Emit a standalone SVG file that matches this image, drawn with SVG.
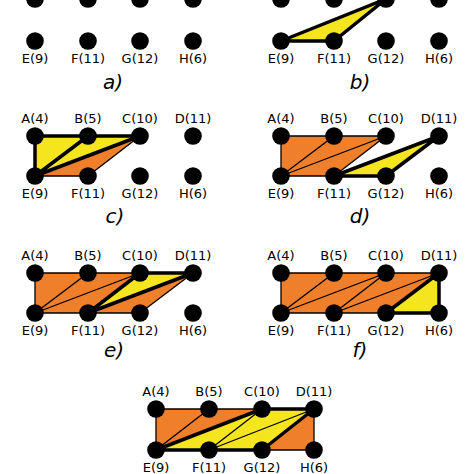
<svg xmlns="http://www.w3.org/2000/svg" width="474" height="474" viewBox="0 0 474 474">
<style>
.y{fill:#f5e51e;stroke:none}
.o{fill:#ef7f2b;stroke:none}
.thin{stroke:#000;stroke-width:1.3;fill:none;stroke-linejoin:round}
.thick{stroke:#000;stroke-width:3.5;fill:none;stroke-linejoin:round;stroke-linecap:round}
.dot{fill:#000}
.lb{font-family:"DejaVu Sans",sans-serif;font-size:13px;text-anchor:middle;fill:#000}
.pl{font-family:"DejaVu Sans",sans-serif;font-size:20px;font-style:italic;text-anchor:middle;fill:#000}
</style>
<g id="fills">
<polygon class="y" points="281,41 334,41 386,-1"/>
<polygon class="y" points="35,136 140,136 35,176"/>
<polygon class="o" points="35,176 140,136 88,176"/>
<polygon class="o" points="281,136 386,136 334,176 281,176"/>
<polygon class="y" points="334,176 386,176 439,136"/>
<polygon class="o" points="35,273 193,273 140,313 35,313"/>
<polygon class="y" points="140,273 193,273 88,313"/>
<polygon class="o" points="281,273 439,273 386,313 281,313"/>
<polygon class="y" points="386,313 439,273 439,313"/>
<polygon class="o" points="156,409 314,409 314,450 156,450"/>
<polygon class="y" points="156,450 262,409 314,409 262,450"/>
</g>
<g id="connectors">
<polygon class="thick" points="281,41 334,41 386,-1"/>
<polyline class="thin" points="35,176 88,176 140,136"/>
<path class="thick" d="M35,176 L35,136 L140,136 L35,176 M35,176 L88,136"/>
<polygon class="thin" points="281,136 386,136 334,176 281,176"/>
<path class="thin" d="M281,176 L334,136 M281,176 L386,136"/>
<polygon class="thick" points="334,176 386,176 439,136"/>
<polygon class="thin" points="35,273 193,273 140,313 35,313"/>
<path class="thin" d="M35,313 L88,273 M35,313 L140,273"/>
<polygon class="thick" points="140,273 193,273 88,313"/>
<polygon class="thin" points="281,273 439,273 386,313 281,313"/>
<path class="thin" d="M281,313 L334,273 M281,313 L386,273 M334,313 L386,273 M334,313 L439,273"/>
<polygon class="thick" points="386,313 439,273 439,313"/>
<polygon class="thin" points="156,409 314,409 314,450 156,450"/>
<path class="thin" d="M156,450 L209,409 M209,450 L262,409 M209,450 L314,409"/>
<polygon class="thick" points="156,450 262,409 314,409 262,450"/>
</g>
<g id="a">
<g id="a-A"><circle class="dot" cx="35" cy="-1" r="8.8"/></g>
<g id="a-B"><circle class="dot" cx="88" cy="-1" r="8.8"/></g>
<g id="a-C"><circle class="dot" cx="140" cy="-1" r="8.8"/></g>
<g id="a-D"><circle class="dot" cx="193" cy="-1" r="8.8"/></g>
<g id="a-E"><circle class="dot" cx="35" cy="41" r="8.8"/><text class="lb" x="35" y="63">E(9)</text></g>
<g id="a-F"><circle class="dot" cx="88" cy="41" r="8.8"/><text class="lb" x="88" y="63">F(11)</text></g>
<g id="a-G"><circle class="dot" cx="140" cy="41" r="8.8"/><text class="lb" x="140" y="63">G(12)</text></g>
<g id="a-H"><circle class="dot" cx="193" cy="41" r="8.8"/><text class="lb" x="193" y="63">H(6)</text></g>
<text class="pl" x="113" y="89">a)</text>
</g>
<g id="b">
<g id="b-A"><circle class="dot" cx="281" cy="-1" r="8.8"/></g>
<g id="b-B"><circle class="dot" cx="334" cy="-1" r="8.8"/></g>
<g id="b-C"><circle class="dot" cx="386" cy="-1" r="8.8"/></g>
<g id="b-D"><circle class="dot" cx="439" cy="-1" r="8.8"/></g>
<g id="b-E"><circle class="dot" cx="281" cy="41" r="8.8"/><text class="lb" x="281" y="63">E(9)</text></g>
<g id="b-F"><circle class="dot" cx="334" cy="41" r="8.8"/><text class="lb" x="334" y="63">F(11)</text></g>
<g id="b-G"><circle class="dot" cx="386" cy="41" r="8.8"/><text class="lb" x="386" y="63">G(12)</text></g>
<g id="b-H"><circle class="dot" cx="439" cy="41" r="8.8"/><text class="lb" x="439" y="63">H(6)</text></g>
<text class="pl" x="360" y="89">b)</text>
</g>
<g id="c">
<g id="c-A"><circle class="dot" cx="35" cy="136" r="8.8"/><text class="lb" x="35" y="123">A(4)</text></g>
<g id="c-B"><circle class="dot" cx="88" cy="136" r="8.8"/><text class="lb" x="88" y="123">B(5)</text></g>
<g id="c-C"><circle class="dot" cx="140" cy="136" r="8.8"/><text class="lb" x="140" y="123">C(10)</text></g>
<g id="c-D"><circle class="dot" cx="193" cy="136" r="8.8"/><text class="lb" x="193" y="123">D(11)</text></g>
<g id="c-E"><circle class="dot" cx="35" cy="176" r="8.8"/><text class="lb" x="35" y="198">E(9)</text></g>
<g id="c-F"><circle class="dot" cx="88" cy="176" r="8.8"/><text class="lb" x="88" y="198">F(11)</text></g>
<g id="c-G"><circle class="dot" cx="140" cy="176" r="8.8"/><text class="lb" x="140" y="198">G(12)</text></g>
<g id="c-H"><circle class="dot" cx="193" cy="176" r="8.8"/><text class="lb" x="193" y="198">H(6)</text></g>
<text class="pl" x="115" y="223">c)</text>
</g>
<g id="d">
<g id="d-A"><circle class="dot" cx="281" cy="136" r="8.8"/><text class="lb" x="281" y="123">A(4)</text></g>
<g id="d-B"><circle class="dot" cx="334" cy="136" r="8.8"/><text class="lb" x="334" y="123">B(5)</text></g>
<g id="d-C"><circle class="dot" cx="386" cy="136" r="8.8"/><text class="lb" x="386" y="123">C(10)</text></g>
<g id="d-D"><circle class="dot" cx="439" cy="136" r="8.8"/><text class="lb" x="439" y="123">D(11)</text></g>
<g id="d-E"><circle class="dot" cx="281" cy="176" r="8.8"/><text class="lb" x="281" y="198">E(9)</text></g>
<g id="d-F"><circle class="dot" cx="334" cy="176" r="8.8"/><text class="lb" x="334" y="198">F(11)</text></g>
<g id="d-G"><circle class="dot" cx="386" cy="176" r="8.8"/><text class="lb" x="386" y="198">G(12)</text></g>
<g id="d-H"><circle class="dot" cx="439" cy="176" r="8.8"/><text class="lb" x="439" y="198">H(6)</text></g>
<text class="pl" x="360" y="223">d)</text>
</g>
<g id="e">
<g id="e-A"><circle class="dot" cx="35" cy="273" r="8.8"/><text class="lb" x="35" y="260">A(4)</text></g>
<g id="e-B"><circle class="dot" cx="88" cy="273" r="8.8"/><text class="lb" x="88" y="260">B(5)</text></g>
<g id="e-C"><circle class="dot" cx="140" cy="273" r="8.8"/><text class="lb" x="140" y="260">C(10)</text></g>
<g id="e-D"><circle class="dot" cx="193" cy="273" r="8.8"/><text class="lb" x="193" y="260">D(11)</text></g>
<g id="e-E"><circle class="dot" cx="35" cy="313" r="8.8"/><text class="lb" x="35" y="335">E(9)</text></g>
<g id="e-F"><circle class="dot" cx="88" cy="313" r="8.8"/><text class="lb" x="88" y="335">F(11)</text></g>
<g id="e-G"><circle class="dot" cx="140" cy="313" r="8.8"/><text class="lb" x="140" y="335">G(12)</text></g>
<g id="e-H"><circle class="dot" cx="193" cy="313" r="8.8"/><text class="lb" x="193" y="335">H(6)</text></g>
<text class="pl" x="114" y="357">e)</text>
</g>
<g id="f">
<g id="f-A"><circle class="dot" cx="281" cy="273" r="8.8"/><text class="lb" x="281" y="260">A(4)</text></g>
<g id="f-B"><circle class="dot" cx="334" cy="273" r="8.8"/><text class="lb" x="334" y="260">B(5)</text></g>
<g id="f-C"><circle class="dot" cx="386" cy="273" r="8.8"/><text class="lb" x="386" y="260">C(10)</text></g>
<g id="f-D"><circle class="dot" cx="439" cy="273" r="8.8"/><text class="lb" x="439" y="260">D(11)</text></g>
<g id="f-E"><circle class="dot" cx="281" cy="313" r="8.8"/><text class="lb" x="281" y="335">E(9)</text></g>
<g id="f-F"><circle class="dot" cx="334" cy="313" r="8.8"/><text class="lb" x="334" y="335">F(11)</text></g>
<g id="f-G"><circle class="dot" cx="386" cy="313" r="8.8"/><text class="lb" x="386" y="335">G(12)</text></g>
<g id="f-H"><circle class="dot" cx="439" cy="313" r="8.8"/><text class="lb" x="439" y="335">H(6)</text></g>
<text class="pl" x="360" y="357">f)</text>
</g>
<g id="g">
<g id="g-A"><circle class="dot" cx="156" cy="409" r="8.8"/><text class="lb" x="156" y="396">A(4)</text></g>
<g id="g-B"><circle class="dot" cx="209" cy="409" r="8.8"/><text class="lb" x="209" y="396">B(5)</text></g>
<g id="g-C"><circle class="dot" cx="262" cy="409" r="8.8"/><text class="lb" x="262" y="396">C(10)</text></g>
<g id="g-D"><circle class="dot" cx="314" cy="409" r="8.8"/><text class="lb" x="314" y="396">D(11)</text></g>
<g id="g-E"><circle class="dot" cx="156" cy="450" r="8.8"/><text class="lb" x="156" y="472">E(9)</text></g>
<g id="g-F"><circle class="dot" cx="209" cy="450" r="8.8"/><text class="lb" x="209" y="472">F(11)</text></g>
<g id="g-G"><circle class="dot" cx="262" cy="450" r="8.8"/><text class="lb" x="262" y="472">G(12)</text></g>
<g id="g-H"><circle class="dot" cx="314" cy="450" r="8.8"/><text class="lb" x="314" y="472">H(6)</text></g>
</g>
</svg>
